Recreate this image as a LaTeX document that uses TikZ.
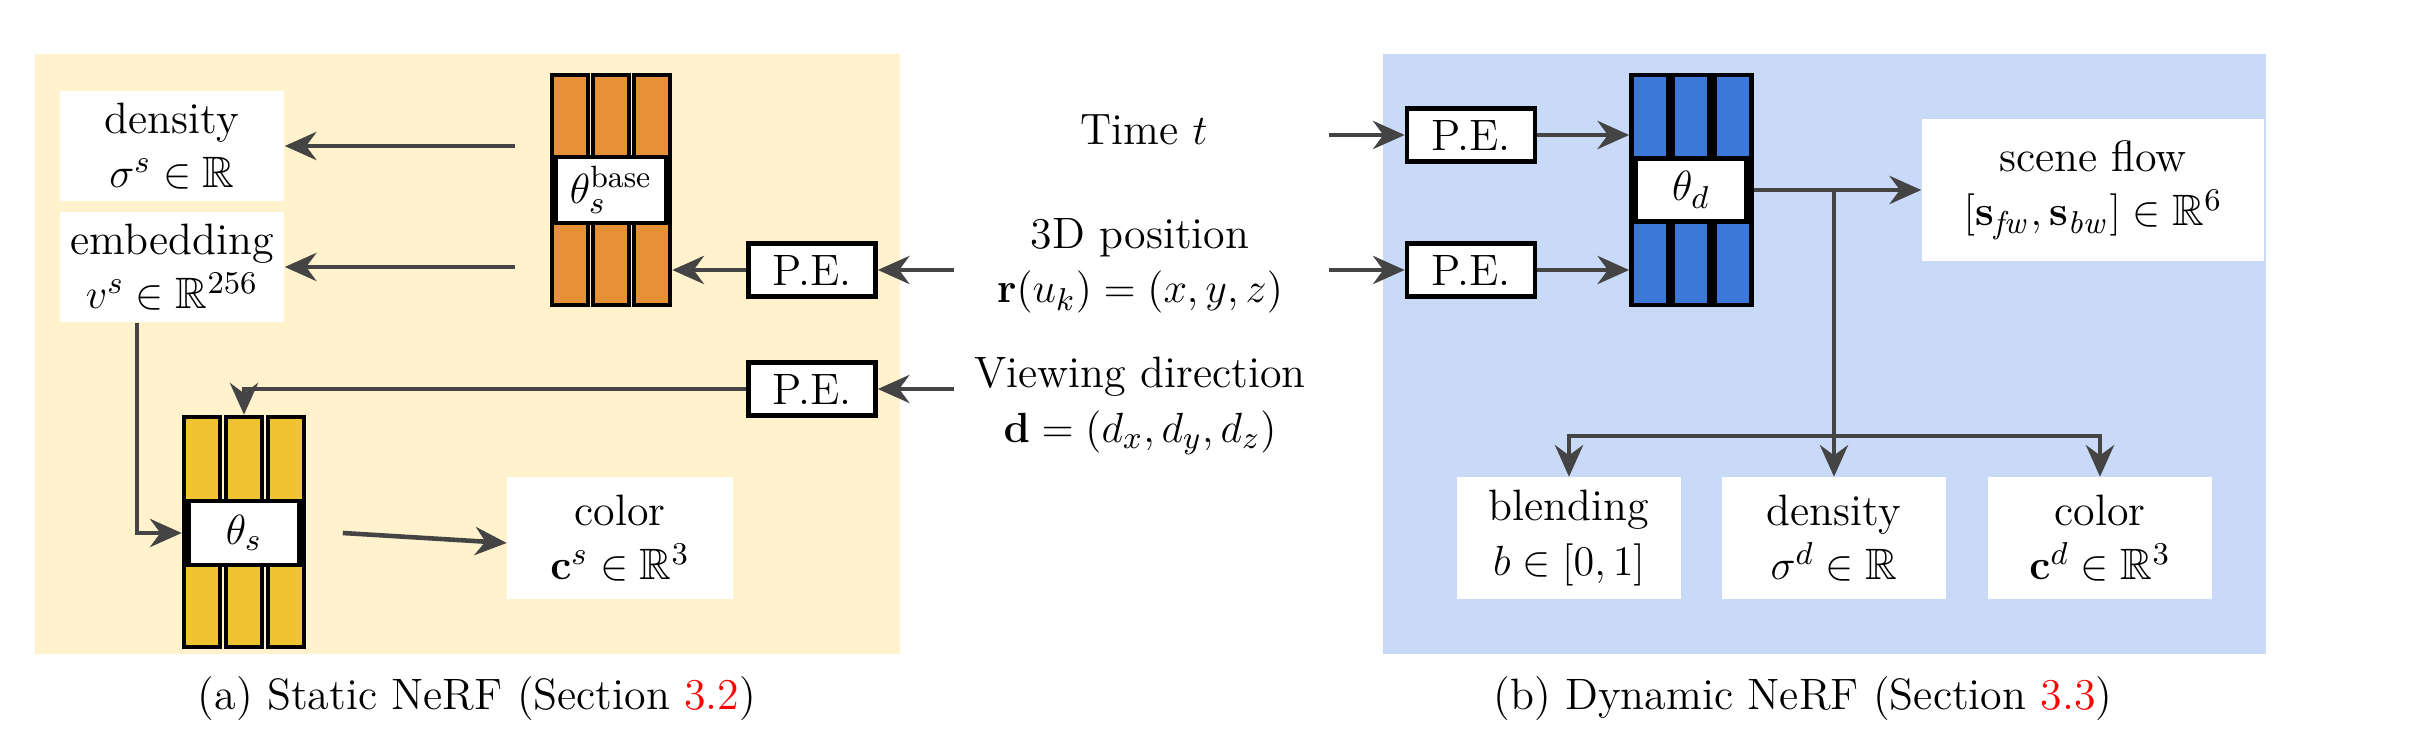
\documentclass[tikz,border=0pt]{standalone}
\usepackage{amsmath,amssymb}
\usetikzlibrary{arrows.meta}
\definecolor{staticbg}{HTML}{FFF2CC}
\definecolor{dynbg}{HTML}{C9DAF8}
\definecolor{basecol}{HTML}{E69138}
\definecolor{colcol}{HTML}{F1C232}
\definecolor{dyncol}{HTML}{3C78D8}
\definecolor{wire}{HTML}{444444}
\tikzset{
  outbox/.style = {shape=rectangle, fill=white, align=center,
                   minimum width=2.24cm, minimum height=1.21cm, inner sep=0pt},
  pe/.style     = {shape=rectangle, draw, line width=1.3pt, fill=white,
                   minimum width=1.27cm, minimum height=0.53cm, inner sep=0pt},
  bar/.style    = {shape=rectangle, draw, line width=1.3pt,
                   minimum width=0.36cm, minimum height=2.30cm},
  theta/.style  = {shape=rectangle, draw, line width=1.3pt, fill=white,
                   minimum width=1.11cm, minimum height=0.66cm, inner sep=0pt},
  flow/.style   = {draw=wire, line width=1.3pt, -{Stealth[length=9pt,width=8pt]}},
  line/.style   = {draw=wire, line width=1.3pt},
  every node/.style = {font=\fontsize{12.5}{15.5}\selectfont}
}
\begin{document}
\begin{tikzpicture}[x=0.01cm, y=-0.01cm]
  \useasboundingbox (0,0) rectangle (2412,731);
  % panels
  \fill[staticbg] (35,54) rectangle (900,654);
  \fill[dynbg] (1383,54) rectangle (2266,654);

  % static nerf
  \foreach \i/\x in {1/570, 2/611, 3/652}
    \node[bar, fill=basecol] (base\i) at (\x,190) {};
  \node[theta] (tbase) at (611,190) {$\theta_s^{\text{base}}$};
  \foreach \i/\x in {1/202, 2/244, 3/286}
    \node[bar, fill=colcol] (col\i) at (\x,532) {};
  \node[theta, minimum height=0.64cm] (tcol) at (244,533) {$\theta_s$};

  \node[outbox, minimum height=1.09cm] (sdens) at (172,146) {density\\ $\sigma^s\in\mathbb{R}$};
  \node[outbox, minimum height=1.10cm] (semb) at (172,267) {embedding\\ $v^s\in\mathbb{R}^{256}$};
  \node[outbox, minimum width=2.25cm] (scol) at (620,538) {color\\ $\mathbf{c}^s\in\mathbb{R}^3$};
  \node[pe] (pe1) at (812,270) {P.E.};
  \node[pe] (pe2) at (812,389) {P.E.};

  % inputs
  \node (time) at (1144,130) {Time $t$};
  \node[align=center] (pos) at (1140,266) {3D position\\ $\mathbf{r}(u_k)=(x,y,z)$};
  \node[align=center] (view) at (1140,406) {Viewing direction\\ $\mathbf{d}=(d_x,d_y,d_z)$};
  \coordinate (posl) at (954,270);
  \coordinate (viewl) at (954,389);
  \coordinate (timer) at (1329,135);
  \coordinate (posr) at (1329,270);

  % dynamic nerf
  \foreach \i/\x in {1/1650, 2/1691, 3/1733}
    \node[bar, fill=dyncol, minimum width=0.37cm] (dyn\i) at (\x,190) {};
  \node[theta, minimum height=0.63cm] (tdyn) at (1691,190) {$\theta_d$};
  \node[pe, minimum width=1.28cm] (pe3) at (1471,135) {P.E.};
  \node[pe, minimum width=1.28cm] (pe4) at (1471,270) {P.E.};
  \node[outbox, minimum width=3.42cm, minimum height=1.42cm] (flow) at (2093,190)
    {scene flow\\ $[\mathbf{s}_{\mathit{fw}},\mathbf{s}_{\mathit{bw}}]\in\mathbb{R}^6$};
  \node[outbox] (blend) at (1569,538) {blending\\ $b\in[0,1]$};
  \node[outbox] (ddens) at (1834,538) {density\\ $\sigma^d\in\mathbb{R}$};
  \node[outbox] (dcol) at (2100,538) {color\\ $\mathbf{c}^d\in\mathbb{R}^3$};
  \coordinate (split) at (1834,190);
  \coordinate (fork) at (1834,436);

  % connectors
  \draw[flow] ([xshift=-0.35cm]base1.west |- sdens) -- (sdens);
  \draw[flow] ([xshift=-0.35cm]base1.west |- semb) -- (semb);
  \draw[flow] (posl) -- (pe1);
  \draw[flow] (pe1) -- (base3.east |- pe1);
  \draw[flow] (viewl) -- (pe2);
  \draw[flow] (pe2.west) -| (col2.north);
  \draw[flow] ([xshift=-0.35cm]semb.south) |- (col1.west |- tcol);
  \draw[flow] ([xshift=0.41cm]tcol.east) -- ([yshift=-0.05cm]scol.west);
  \draw[flow] (timer) -- (pe3);
  \draw[flow] (posr) -- (pe4);
  \draw[flow] (pe3) -- (dyn1.west |- pe3);
  \draw[flow] (pe4) -- (dyn1.west |- pe4);
  \draw[flow] (dyn3.east |- tdyn) -- (flow.west |- tdyn);
  \draw[line] (split) -- (fork);
  \draw[flow] (fork) -- (ddens);
  \draw[flow] (fork) -| (blend);
  \draw[flow] (fork) -| (dcol);

  % captions
  \node (capa) at (477,699) {(a) Static NeRF (Section {\color{red}3.2})};
  \node (capb) at (1803,699) {(b) Dynamic NeRF (Section {\color{red}3.3})};
\end{tikzpicture}
\end{document}
